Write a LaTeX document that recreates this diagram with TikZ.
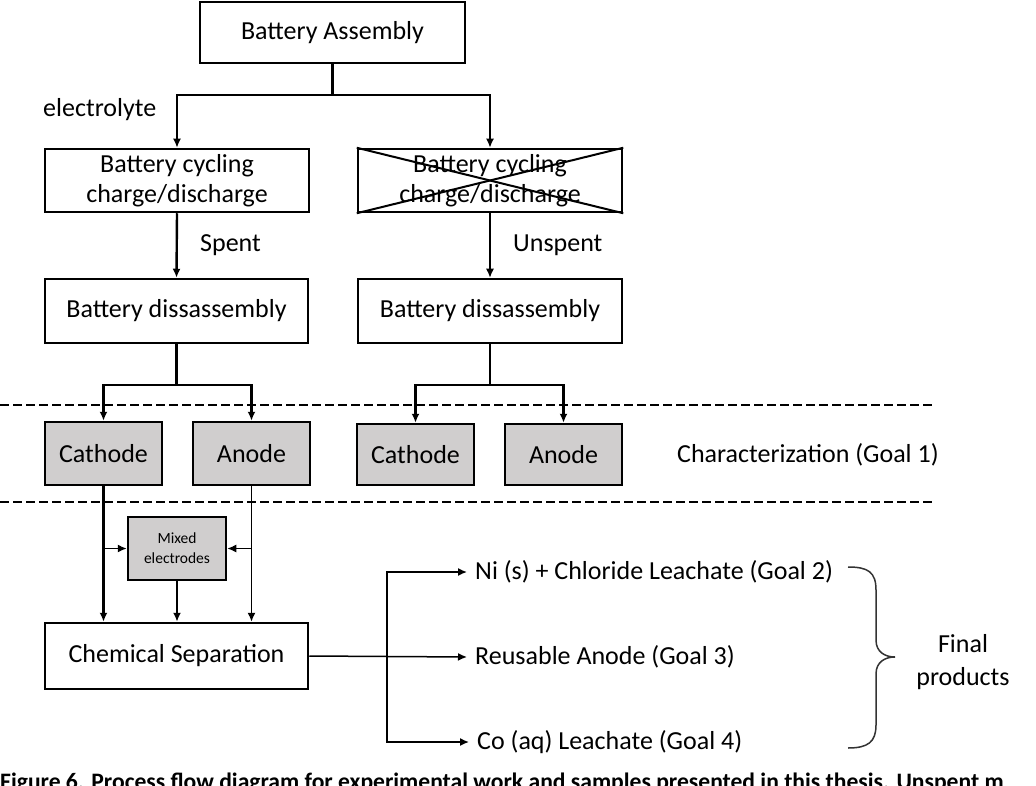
\documentclass[tikz,border=0pt]{standalone}
\usepackage{fontspec}
\setmainfont{Carlito}
\usetikzlibrary{arrows.meta}
\definecolor{boxgray}{RGB}{208,206,206}
\tikzset{
  box/.style={draw, line width=2.5pt, rectangle, inner sep=0pt, align=center,
    font=\fontsize{26}{29}\selectfont},
  gbox/.style={box, fill=boxgray},
  lbl/.style={inner sep=0pt, anchor=west, font=\fontsize{26}{29}\selectfont},
  conn/.style={line width=2.4pt},
  arr/.style={line width=2.4pt, -{Latex[length=9pt,width=8pt]}},
  tarr/.style={line width=1.5pt, -{Latex[length=9pt,width=8pt]}},
  sep/.style={line width=1.8pt, dash pattern=on 9pt off 4pt},
}
\newcommand{\cyctext}{\raisebox{-4.5pt}{\shortstack{Battery cycling\\[4pt]charge/discharge}}}
\begin{document}
\begin{tikzpicture}[x=1pt,y=-1pt]
\clip (0,0) rectangle (1036,786);
% boxes
\node[box, minimum width=265pt, minimum height=61pt] (asm) at (332.5,32.5) {Battery Assembly};
\node[box, minimum width=264pt, minimum height=63pt] (cyc1) at (177,180.5) {\cyctext};
\node[box, minimum width=264pt, minimum height=63pt] (cyc2) at (490,180.5) {\cyctext};
\draw[line width=2pt] (cyc2.north west) -- (cyc2.south east);
\draw[line width=2pt] (cyc2.south west) -- (cyc2.north east);
\node[box, minimum width=263pt, minimum height=64pt] (dis1) at (176.5,311) {Battery dissassembly};
\node[box, minimum width=264pt, minimum height=64pt] (dis2) at (490,311) {Battery dissassembly};
\node[gbox, minimum width=117pt, minimum height=63pt] (cat1) at (103.5,453.5) {Cathode};
\node[gbox, minimum width=117pt, minimum height=63pt] (an1) at (251.5,453.5) {Anode};
\node[gbox, minimum width=117pt, minimum height=61pt] (cat2) at (415.5,454.5) {Cathode};
\node[gbox, minimum width=117pt, minimum height=61pt] (an2) at (563.5,454.5) {Anode};
\node[gbox, minimum width=98pt, minimum height=63pt, font=\fontsize{15.5}{20}\selectfont] (mix) at (177,548.5) {Mixed\\electrodes};
\node[box, minimum width=263pt, minimum height=66pt] (chem) at (176.5,656) {Chemical Separation};
% labels
\node[lbl] (elec) at (43,110) {electrolyte};
\node[lbl] (spent) at (200,245) {Spent};
\node[lbl] (unspent) at (513,245) {Unspent};
\node[lbl] (char) at (677,455) {Characterization (Goal 1)};
\node[lbl, inner xsep=8pt] (p2) at (467,572) {Ni (s) + Chloride Leachate (Goal 2)};
\node[lbl, inner xsep=8pt] (p3) at (467,657) {Reusable Anode (Goal 3)};
\node[lbl, inner xsep=8pt] (p4) at (469,742) {Co (aq) Leachate (Goal 4)};
\node[align=center, inner sep=0pt, font=\fontsize{26}{33}\selectfont] (final) at (963,662) {Final\\products};
% separators
\draw[sep] (0,405) -- (933,405);
\draw[sep] (0,502) -- (933,502);
% connectors
\coordinate (j1) at (332.5,95);
\draw[conn] (asm.south) -- (j1);
\draw[arr] (j1) -| (cyc1.north);
\draw[arr] (j1) -| (cyc2.north);
\draw[arr] (cyc1.south) -- (dis1.north);
\draw[tarr] (cyc2.south) -- (dis2.north);
\coordinate (j2) at (176.5,385);
\draw[conn] (dis1.south) -- (j2);
\draw[arr] (j2) -| (cat1.north);
\draw[arr] (j2) -| (an1.north);
\coordinate (j3) at (490,385);
\draw[conn] (dis2.south) -- (j3);
\draw[arr] (j3) -| (cat2.north);
\draw[arr] (j3) -| (an2.north);
\draw[arr] (cat1.south) -- (cat1.south |- chem.north);
\draw[tarr] (cat1.south |- mix.west) -- (mix.west);
\draw[tarr] (an1.south) -- (an1.south |- chem.north);
\draw[tarr] (an1.south |- mix.east) -- (mix.east);
\draw[arr] (mix.south) -- (mix.south |- chem.north);
\coordinate (v) at (387,656);
\draw[tarr] (chem.east) -- (p3.west);
\draw[tarr] (v) |- (p2.west);
\draw[tarr] (v) |- (p4.west);
% brace
\draw[line width=1.5pt, draw=black!80] (848,567) .. controls (868,567) and (876,572) .. (876,590) -- (876,640)
  .. controls (876,652) and (885,657) .. (895,657)
  .. controls (885,657) and (876,662) .. (876,674) -- (876,725)
  .. controls (876,742) and (868,748) .. (848,748);
% caption (cut off at the lower edge, as in the reference)
\node[anchor=base west, inner sep=0pt, font=\bfseries\fontsize{23.6}{28}\selectfont] (cap) at (0,789) {Figure 6. Process flow diagram for experimental work and samples presented in this thesis. Unspent m};
\end{tikzpicture}
\end{document}
